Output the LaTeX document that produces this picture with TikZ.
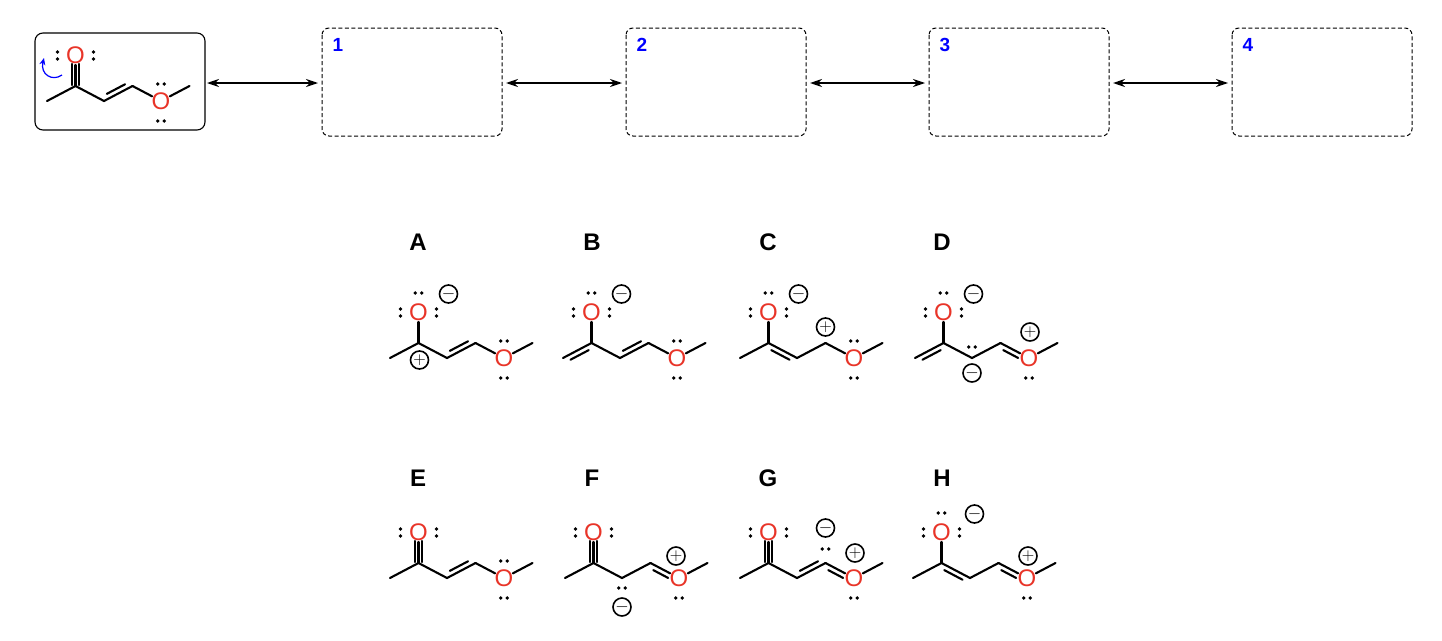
\documentclass[tikz,border=0pt]{standalone}
\usepackage{fontspec}
\setmainfont{Liberation Sans}
\usepackage{tikz}
\usetikzlibrary{calc}
\usetikzlibrary{arrows.meta}
\definecolor{oxred}{RGB}{232,52,40}

% skeleton: CH3 end at (#1,#2), all main bonds and both oxygens
\newcommand{\mol}[2]{%
  \path[shift={(#1,#2)}] coordinate (m) at (0,0) coordinate (c2) at (28.5,-15)
    coordinate (o1) at (28.5,-46) coordinate (c3) at (57,0)
    coordinate (c4) at (85.5,-15) coordinate (o2) at (114,0)
    coordinate (me) at (142.5,-15);
  \draw[bond] (m) -- (c2) -- (c3) -- (c4);
  \draw[bond,shorten >=10] (c2) -- (o1);
  \draw[bond,shorten >=10] (c4) -- (o2);
  \draw[bond,shorten <=10] (o2) -- (me);
  \node[atom] at (o1) {O};
  \node[atom] at (o2) {O};
}
% inner line of a double bond
\newcommand{\dbl}[4][0.82]{%
  \draw[bond] ($(#2)!0.18!(#3)!#4pt!90:(#3)$) -- ($(#2)!#1!(#3)!#4pt!90:(#3)$);}
\newcommand{\dblco}{%
  \draw[bond] ([shift={(-3.6,-1)}]c2) -- ([shift={(-3.6,-22)}]c2);
  \draw[bond] ([shift={(3.6,-1)}]c2) -- ([shift={(3.6,-22)}]c2);}
% lone pairs
\newcommand{\lpT}[2][-19]{\fill ([shift={(-3.3,#1)}]#2) circle (1.9) ([shift={(3.3,#1)}]#2) circle (1.9);}
\newcommand{\lpB}[2][20]{\fill ([shift={(-3.3,#1)}]#2) circle (1.9) ([shift={(3.3,#1)}]#2) circle (1.9);}
\newcommand{\lpL}[1]{\fill ([shift={(-18,-3)}]#1) circle (1.9) ([shift={(-18,4)}]#1) circle (1.9);}
\newcommand{\lpR}[1]{\fill ([shift={(18,-3)}]#1) circle (1.9) ([shift={(18,4)}]#1) circle (1.9);}

\begin{document}
\begin{tikzpicture}[
x=1pt, y=-1pt,
bond/.style  = {line width=2.1, line cap=round},
atom/.style  = {text=oxred, font=\fontsize{24}{24}\selectfont, inner sep=0},
chg/.style   = {circle, draw, line width=1.6, minimum size=18, inner sep=0,
                font=\fontsize{18}{18}\selectfont},
tag/.style   = {font=\fontsize{24}{24}\selectfont\bfseries},
num/.style   = {font=\fontsize{19}{19}\selectfont\bfseries, text=blue},
slot/.style  = {draw, dash pattern=on 4pt off 2.5pt, rounded corners=7, line width=1},
eq/.style    = {{Stealth[length=12,width=8]}-{Stealth[length=12,width=8]}, line width=1.3}
]
\useasboundingbox (0,0) rectangle (1442,640);

% starting structure
\draw[rounded corners=8, line width=1.1] (35,33) rectangle (205,130);
\coordinate (startR) at (207,83);
\mol{47}{101}
\dblco \dbl{c3}{c4}{5} \lpL{o1} \lpR{o1} \lpT[-17]{o2} \lpB{o2}
\draw[blue, line width=1.2, -{Stealth[length=7,width=6]}] (62,75) .. controls (52,82) and (40,74) .. (44,58);

% empty slots
\foreach \i/\xx in {1/322, 2/626, 3/929, 4/1232} {
  \draw[slot] (\xx,28) rectangle ++(180,108);
  \node[num] (n\i) at (\xx+16,45) {\i};
  \coordinate (L\i) at (\xx-4,83);
  \coordinate (R\i) at (\xx+184,83);
}
\draw[eq] (startR) -- (L1);
\draw[eq] (R1) -- (L2);
\draw[eq] (R2) -- (L3);
\draw[eq] (R3) -- (L4);

% answer choices
\node[tag] (A) at (418,242) {A};
\node[tag] (B) at (592,242) {B};
\node[tag] (C) at (768,242) {C};
\node[tag] (D) at (942,242) {D};
\node[tag] (E) at (418,478) {E};
\node[tag] (F) at (592,478) {F};
\node[tag] (G) at (768,478) {G};
\node[tag] (H) at (942,478) {H};

% A
\mol{390}{358}
\dbl{c3}{c4}{5} \lpT{o1} \lpL{o1} \lpR{o1} \lpT[-17]{o2} \lpB{o2}
\node[chg] at ([shift={(30,-18)}]o1) {$-$};
\node[chg] at ([shift={(1,17)}]c2) {$+$};
% B
\mol{563}{358}
\dbl{m}{c2}{-5} \dbl{c3}{c4}{5} \lpT{o1} \lpL{o1} \lpR{o1} \lpT[-17]{o2} \lpB{o2}
\node[chg] at ([shift={(30,-18)}]o1) {$-$};
% C
\mol{740}{358}
\dbl{c2}{c3}{-5} \lpT{o1} \lpL{o1} \lpR{o1} \lpT[-17]{o2} \lpB{o2}
\node[chg] at ([shift={(30,-18)}]o1) {$-$};
\node[chg] at ([shift={(0,-16)}]c4) {$+$};
% D
\mol{915}{358}
\dbl{m}{c2}{-5} \dbl[0.7]{c4}{o2}{-5} \lpT{o1} \lpL{o1} \lpR{o1} \lpB{o2}
\lpT[-11]{c3}
\node[chg] at ([shift={(30,-18)}]o1) {$-$};
\node[chg] at ([shift={(0,15)}]c3) {$-$};
\node[chg] at ([shift={(1,-26)}]o2) {$+$};
% E
\mol{390}{578}
\dblco \dbl{c3}{c4}{5} \lpL{o1} \lpR{o1} \lpT[-17]{o2} \lpB{o2}
% F
\mol{565}{578}
\dblco \dbl[0.7]{c4}{o2}{-5} \lpL{o1} \lpR{o1} \lpB{o2}
\lpB[10]{c3}
\node[chg] at ([shift={(0,29)}]c3) {$-$};
\node[chg] at ([shift={(-3,-22)}]o2) {$+$};
% G
\mol{740}{578}
\dblco \dbl{c3}{c4}{5} \dbl[0.7]{c4}{o2}{-5} \lpL{o1} \lpR{o1} \lpB{o2}
\lpT[-14]{c4}
\node[chg] at ([shift={(0,-35)}]c4) {$-$};
\node[chg] at ([shift={(1,-25)}]o2) {$+$};
% H
\mol{913}{578}
\dbl{c2}{c3}{-5} \dbl[0.7]{c4}{o2}{-5} \lpT{o1} \lpL{o1} \lpR{o1} \lpB{o2}
\node[chg] at ([shift={(33,-18)}]o1) {$-$};
\node[chg] at ([shift={(1,-22)}]o2) {$+$};
\end{tikzpicture}
\end{document}
